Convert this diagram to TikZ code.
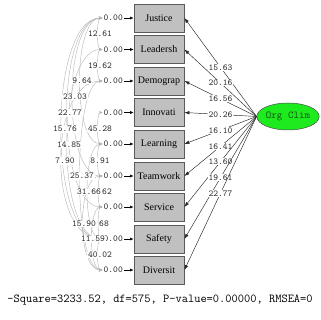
\documentclass[tikz,border=0pt]{standalone}
\usepackage{fontspec}
\setmainfont{Liberation Serif}
\usetikzlibrary{arrows.meta,shapes.geometric}
\definecolor{boxfill}{RGB}{192,192,192}
\definecolor{boxline}{RGB}{90,90,90}
\definecolor{covline}{RGB}{180,180,180}
\definecolor{labtxt}{RGB}{45,45,45}
\definecolor{latfill}{RGB}{30,235,30}
\definecolor{lattxt}{RGB}{20,80,20}
\tikzset{
  obsbox/.style={draw=boxline,fill=boxfill,line width=0.8pt,minimum width=50pt,minimum height=28pt,inner sep=0pt,font=\fontsize{10}{12}\selectfont},
  errlab/.style={anchor=east,inner sep=1pt,font=\ttfamily\fontsize{9.1}{10}\selectfont,text=labtxt},
  covlab/.style={inner sep=0.6pt,fill=white,font=\ttfamily\fontsize{9.1}{10}\selectfont,text=labtxt},
  loadlab/.style={inner sep=0.6pt,fill=white,font=\ttfamily\fontsize{9.1}{10}\selectfont,text=labtxt},
  cov/.style={draw=covline,line width=0.4pt,{Stealth[length=3.5pt,width=3pt]}-{Stealth[length=3.5pt,width=3pt]}},
  errarr/.style={draw=black,line width=0.5pt,-{Latex[length=3.5pt,width=3pt]}},
  load/.style={draw=black!85,line width=0.45pt,-{Latex[length=5pt,width=3.5pt]}},
}
\begin{document}
\begin{tikzpicture}[x=1pt,y=-1pt]
\clip (0,0) rectangle (320,320);
\fill[white] (0,0) rectangle (320,320);
% observed boxes
\node[obsbox] (b1) at (159,18) {Justice};
\node[obsbox] (b2) at (159,49.5) {Leadersh};
\node[obsbox] (b3) at (159,81) {Demograp};
\node[obsbox] (b4) at (159,112.5) {Innovati};
\node[obsbox] (b5) at (159,144) {Learning};
\node[obsbox] (b6) at (159,176) {Teamwork};
\node[obsbox] (b7) at (159,207) {Service};
\node[obsbox] (b8) at (159,239) {Safety};
\node[obsbox] (b9) at (159,270) {Diversit};
% error labels
\foreach \i/\y in {1/18,2/49.5,3/81,4/112.5,5/144,6/176,7/207,8/239,9/270}{
  \node[errlab] (e\i) at (124,\y) {0.00};
  \draw[errarr] (e\i.east) -- (b\i.west);
}
% covariance curves
\draw[cov] (e1.west) .. controls +(-6,0) and +(-6,0) .. (e2.west);
\draw[cov] (e2.west) .. controls +(-6,0) and +(-6,0) .. (e3.west);
\draw[cov] (e1.west) .. controls +(-30,0) and +(-30,0) .. (e5.west);
\draw[cov] (e1.west) .. controls +(-40,0) and +(-40,0) .. (e6.west);
\draw[cov] (e1.west) .. controls +(-47,0) and +(-47,0) .. (e7.west);
\draw[cov] (e1.west) .. controls +(-55,0) and +(-55,0) .. (e8.west);
\draw[cov] (e4.west) .. controls +(-6,0) and +(-6,0) .. (e5.west);
\draw[cov] (e2.west) .. controls +(-47,0) and +(-47,0) .. (e8.west);
\draw[cov] (e3.west) .. controls +(-55,0) and +(-55,0) .. (e8.west);
\draw[cov] (e5.west) .. controls +(-6,0) and +(-6,0) .. (e6.west);
\draw[cov] (e3.west) .. controls +(-30,0) and +(-30,0) .. (e9.west);
\draw[cov] (e5.west) .. controls +(-20,0) and +(-20,0) .. (e8.west);
\draw[cov] (e6.west) .. controls +(-5,0) and +(-5,0) .. (e7.west);
\draw[cov] (e6.west) .. controls +(-26,0) and +(-26,0) .. (e9.west);
\draw[cov] (e7.west) .. controls +(-5,0) and +(-5,0) .. (e8.west);
\draw[cov] (e7.west) .. controls +(-14,0) and +(-14,0) .. (e9.west);
\draw[cov] (e8.west) .. controls +(-6,0) and +(-6,0) .. (e9.west);
% covariance labels
\node[covlab] (c1) at (100,34) {12.61};
\node[covlab] (c2) at (100,66) {19.62};
\node[covlab] (c3) at (82,81) {9.64};
\node[covlab] (c4) at (75,97) {23.03};
\node[covlab] (c5) at (70,113) {22.77};
\node[covlab] (c6) at (65,129) {15.76};
\node[covlab] (c7) at (100,129) {45.28};
\node[covlab] (c8) at (69,145) {14.85};
\node[covlab] (c9) at (65,161) {7.90};
\node[covlab] (c10) at (100,161) {8.91};
\node[covlab] (c11) at (82,176) {25.37};
\node[covlab] (c13) at (107,192) {62};
\node[covlab] (c12) at (89,192) {31.66};
\node[covlab] (c15) at (104,224) {68};
\node[covlab] (c14) at (84,224) {15.90};
\node[covlab] (c16) at (93,239) {11.59};
\node[covlab] (c17) at (100,255) {40.02};
% latent variable
\node[ellipse,draw=black!70,line width=0.5pt,fill=latfill,minimum width=50pt,minimum height=27pt,inner sep=0pt,font=\ttfamily\fontsize{10.5}{11}\selectfont,text=lattxt] (oc) at (288,116.5) {Org Clim};
\coordinate (ocr) at (322,116.5);
\draw[covline,line width=0.5pt] (oc.east) -- (ocr);
% loadings
\draw[load] (oc.west) -- node[loadlab]{15.63} (b1.east);
\draw[load] (oc.west) -- node[loadlab]{20.16} (b2.east);
\draw[load] (oc.west) -- node[loadlab]{16.56} (b3.east);
\draw[load] (oc.west) -- node[loadlab]{20.26} (b4.east);
\draw[load] (oc.west) -- node[loadlab]{16.10} (b5.east);
\draw[load] (oc.west) -- node[loadlab]{16.41} (b6.east);
\draw[load] (oc.west) -- node[loadlab]{13.60} (b7.east);
\draw[load] (oc.west) -- node[loadlab]{19.61} (b8.east);
\draw[load] (oc.west) -- node[loadlab]{22.77} (b9.east);
% fit statistics
\node[inner sep=0pt,font=\ttfamily\fontsize{12.1}{13}\selectfont,text=black] (fit) at (160,300) {-Square=3233.52, df=575, P-value=0.00000, RMSEA=0};
\end{tikzpicture}
\end{document}
